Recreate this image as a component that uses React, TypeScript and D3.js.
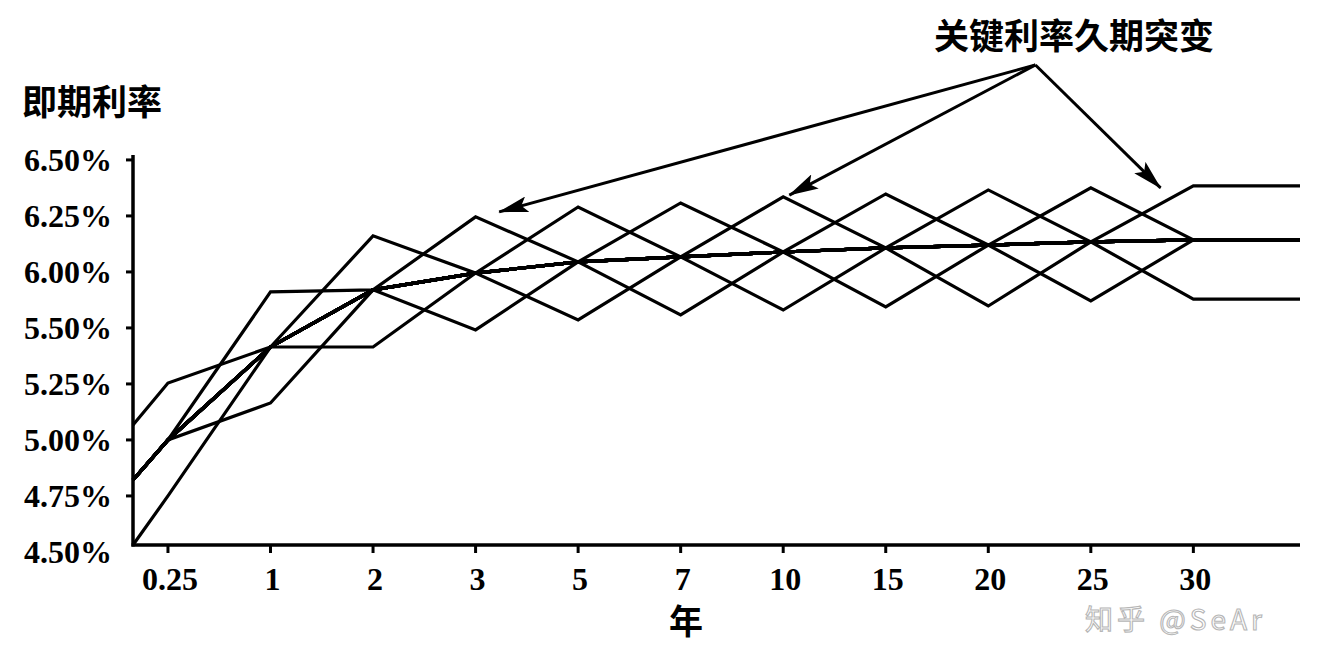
import React from "react";
import * as d3 from "d3";

// ---- data ----
const keys = ["0.25", "1", "2", "3", "5", "7", "10", "15", "20", "25", "30"];
const baseRates = [5.25, 5.665, 5.92, 5.995, 6.045, 6.067, 6.089, 6.107, 6.12, 6.134, 6.143];
const upRates = [5.504, 5.911, 6.161, 6.246, 6.29, 6.308, 6.335, 6.348, 6.366, 6.375, 6.384];
const downRates = [5.0, 5.415, 5.665, 5.741, 5.786, 5.808, 5.83, 5.844, 5.848, 5.871, 5.879];
const startRates = { base: 5.071, up: 5.317, down: 4.781 };

const yTickValues = [6.5, 6.25, 6.0, 5.75, 5.5, 5.25, 5.0, 4.75];
const yTickLabels = ["6.50%", "6.25%", "6.00%", "5.50%", "5.25%", "5.00%", "4.75%", "4.50%"];

const yTitle = "即期利率";
const xTitle = "年";
const annoText = "关键利率久期突变";
// annotation arrows: apex and tips in (key index, rate)
const annoApex = [8.46, 6.924];
const annoTips = [
  [3.23, 6.268],
  [6.06, 6.343],
  [9.68, 6.375],
];

const W = 1328;
const H = 645;

export default function App() {
  const left = 133, right = 1300, top = 155, bottom = 545;
  const xStart = -0.341, xEnd = 11.04;
  const x = d3.scaleLinear().domain([xStart, xEnd]).range([left, right]);
  const y = d3.scaleLinear().domain([4.781, 6.522]).range([bottom, top]);

  const n = keys.length;
  type P = [number, number];
  const curveOf = (vals: number[], start: number): P[] => {
    const pts: P[] = [[xStart, start]];
    vals.forEach((v, i) => pts.push([i, v]));
    pts.push([xEnd, vals[n - 1]]);
    return pts;
  };
  const curves: P[][] = [];
  curves.push(curveOf(baseRates, startRates.base));
  for (let i = 0; i < n; i++) {
    const u = baseRates.slice(); u[i] = upRates[i];
    const d = baseRates.slice(); d[i] = downRates[i];
    curves.push(curveOf(u, i === 0 ? startRates.up : startRates.base));
    curves.push(curveOf(d, i === 0 ? startRates.down : startRates.base));
  }
  const line = d3.line<P>().x((p) => x(p[0])).y((p) => y(p[1]));

  const serif = "'Liberation Serif', 'Times New Roman', serif";
  const cjk = "'Noto Sans CJK SC', sans-serif";

  const apex: P = [x(annoApex[0]), y(annoApex[1])];

  return (
    <svg width={W} height={H} style={{ position: "absolute", left: 0, top: 0, background: "#fff" }}
      xmlns="http://www.w3.org/2000/svg">
      <defs>
        <marker id="ah" viewBox="0 0 30 16" refX="29" refY="8" markerWidth="30" markerHeight="16"
          markerUnits="userSpaceOnUse" orient="auto">
          <path d="M0,0 L30,8 L0,16 L6,8 Z" fill="#000" />
        </marker>
      </defs>
      <rect x={0} y={0} width={W} height={H} fill="#fff" />

      {/* curves */}
      <g fill="none" stroke="#000" strokeWidth={3.2} strokeLinejoin="miter">
        {curves.map((c, i) => (
          <path key={i} d={line(c) || ""} />
        ))}
      </g>

      {/* axes */}
      <g stroke="#000" strokeWidth={3.5}>
        <line x1={left} y1={top} x2={left} y2={bottom + 1.5} />
        <line x1={left - 1.5} y1={bottom} x2={right} y2={bottom} />
      </g>
      {/* y ticks */}
      <g>
        {yTickValues.map((v, i) => (
          <g key={i}>
            {y(v) <= bottom && (
              <line x1={left - 7} x2={left} y1={y(v)} y2={y(v)} stroke="#000" strokeWidth={3} />
            )}
            <text x={112} y={y(v)} dy="0.35em" textAnchor="end" fontFamily={serif}
              fontWeight="bold" fontSize={32}>{yTickLabels[i]}</text>
          </g>
        ))}
      </g>
      {/* x ticks */}
      <g>
        {keys.map((k, i) => (
          <g key={k}>
            <line x1={x(i)} x2={x(i)} y1={bottom} y2={bottom + 8} stroke="#000" strokeWidth={3} />
            <text x={x(i) + 2} y={590} textAnchor="middle" fontFamily={serif} fontWeight="bold"
              fontSize={32}>{k}</text>
          </g>
        ))}
      </g>

      {/* titles */}
      <text x={22} y={115} fontFamily={cjk} fontWeight="bold" fontSize={35}>{yTitle}</text>
      <text x={686} y={634} textAnchor="middle" fontFamily={cjk} fontWeight="bold" fontSize={34}>{xTitle}</text>
      <text x={1074} y={49} textAnchor="middle" fontFamily={cjk} fontWeight="bold" fontSize={35}>{annoText}</text>

      {/* annotation arrows */}
      <g fill="none" stroke="#000" strokeWidth={3}>
        {annoTips.map((t, i) => (
          <line key={i} x1={apex[0]} y1={apex[1]} x2={x(t[0])} y2={y(t[1])} markerEnd="url(#ah)" />
        ))}
      </g>

      {/* watermark */}
      <text x={1085} y={630} fontFamily={cjk} fontSize={28} letterSpacing={4} fill="#fff" stroke="#aaa"
        strokeWidth={1.1} opacity={0.85}>知乎 @SeAr</text>
    </svg>
  );
}
